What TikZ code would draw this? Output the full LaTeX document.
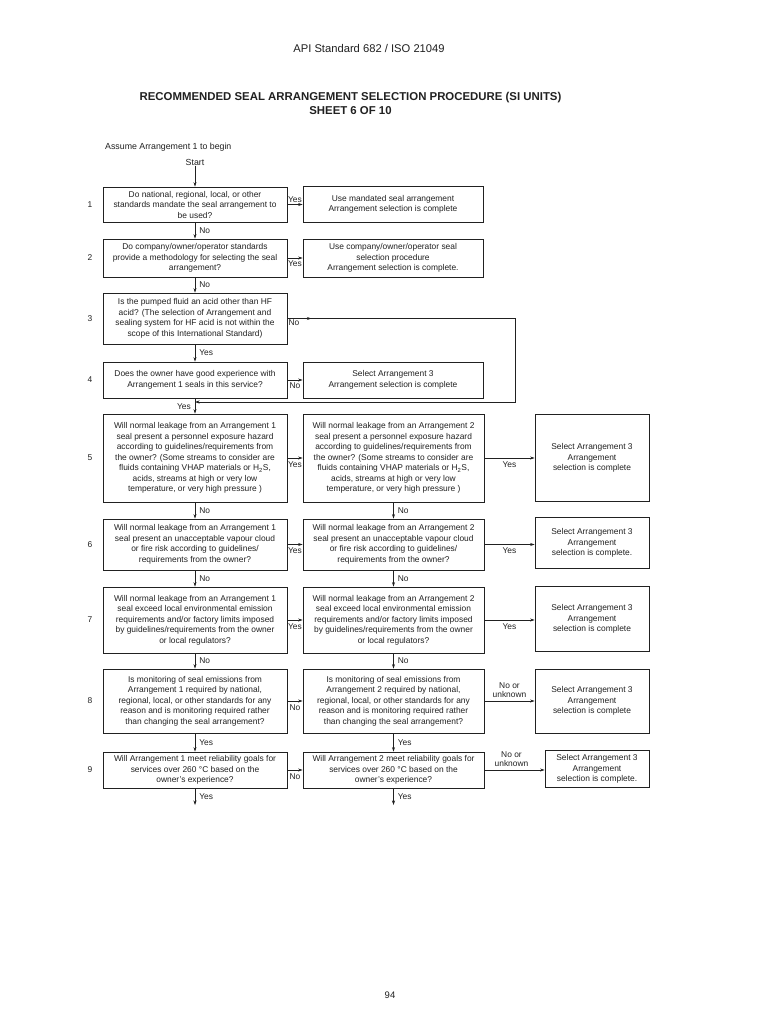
\documentclass[tikz,border=0pt]{standalone}
\usepackage{fontspec}
\setmainfont{Liberation Sans}
\usetikzlibrary{arrows.meta, positioning}
\definecolor{ink}{rgb}{0.13,0.13,0.13}
\tikzset{basic/.style={draw=ink,line width=0.8pt,align=center,inner sep=1pt,text=ink,font=\fontsize{8.4}{10.5}\selectfont}}
\tikzset{ask/.style={basic,minimum width=184pt}}
\tikzset{asktwo/.style={basic,minimum width=181pt}}
\tikzset{done/.style={basic,minimum width=114pt}}
\tikzset{conn/.style={draw=ink,line width=0.6pt,-{Stealth[length=4.5pt,width=3pt]}}}
\tikzset{lbl/.style={text=ink,inner sep=1pt,align=center,font=\fontsize{8.4}{9.5}\selectfont}}

\begin{document}
\begin{tikzpicture}[x=1pt,y=-1pt]
\useasboundingbox (0,0) rectangle (768,1024);
\fill[white] (0,0) rectangle (768,1024);

% Page heading
\node[lbl,font=\fontsize{11.2}{13}\selectfont] (head) at (369,48) {API Standard 682 / ISO 21049};
\node[lbl,font=\bfseries\fontsize{11.4}{14}\selectfont] (title) at (350.5,103) {RECOMMENDED SEAL ARRANGEMENT SELECTION PROCEDURE (SI UNITS)\\SHEET 6 OF 10};
\node[lbl,anchor=west,font=\fontsize{8.8}{10}\selectfont] (assume) at (104,147) {Assume Arrangement 1 to begin};
\node[lbl,font=\fontsize{8.8}{10}\selectfont] (start) at (195,162) {Start};

% Row numbers
\foreach \i/\y in {1/204.5,2/258,3/318.5,4/380,5/458,6/544.5,7/620,8/701,9/770}
  \node[lbl] (n\i) at (90,\y) {\i};

% First column questions
\node[ask,minimum height=35pt] (q1) at (195,204.5) {Do national, regional, local, or other\\standards mandate the seal arrangement to\\be used?};
\node[ask,minimum height=38pt] (q2) at (195,258) {Do company/owner/operator standards\\provide a methodology for selecting the seal\\arrangement?};
\node[ask,minimum height=51pt] (q3) at (195,318.5) {Is the pumped fluid an acid other than HF\\acid? (The selection of Arrangement and\\sealing system for HF acid is not within the\\scope of this International Standard)};
\node[ask,minimum height=36pt] (q4) at (195,380) {Does the owner have good experience with\\Arrangement 1 seals in this service?};
\node[ask,minimum height=88pt] (q5) at (195,458) {Will normal leakage from an Arrangement 1\\seal present a personnel exposure hazard\\according to guidelines/requirements from\\the owner? (Some streams to consider are\\fluids containing VHAP materials or H\textsubscript{2}S,\\acids, streams at high or very low\\temperature, or very high pressure )};
\node[ask,minimum height=51pt] (q6) at (195,544.5) {Will normal leakage from an Arrangement 1\\seal present an unacceptable vapour cloud\\or fire risk according to guidelines/\\requirements from the owner?};
\node[ask,minimum height=66pt] (q7) at (195,620) {Will normal leakage from an Arrangement 1\\seal exceed local environmental emission\\requirements and/or factory limits imposed\\by guidelines/requirements from the owner\\or local regulators?};
\node[ask,minimum height=64pt] (q8) at (195,701) {Is monitoring of seal emissions from\\Arrangement 1 required by national,\\regional, local, or other standards for any\\reason and is monitoring required rather\\than changing the seal arrangement?};
\node[ask,minimum height=36pt] (q9) at (195,770) {Will Arrangement 1 meet reliability goals for\\services over 260 °C based on the\\owner's experience?};

% Early outcomes
\node[asktwo,minimum width=180pt,minimum height=36pt] (r1) at (393,204.5) {Use mandated seal arrangement\\Arrangement selection is complete};
\node[asktwo,minimum width=180pt,minimum height=38pt] (r2) at (393,258) {Use company/owner/operator seal\\selection procedure\\Arrangement selection is complete.};
\node[asktwo,minimum width=180pt,minimum height=36pt] (r4) at (393,380) {Select Arrangement 3\\Arrangement selection is complete};

% Second column questions
\node[asktwo,minimum height=88pt] (m5) at (393.5,458) {Will normal leakage from an Arrangement 2\\seal present a personnel exposure hazard\\according to guidelines/requirements from\\the owner? (Some streams to consider are\\fluids containing VHAP materials or H\textsubscript{2}S,\\acids, streams at high or very low\\temperature, or very high pressure )};
\node[asktwo,minimum height=51pt] (m6) at (393.5,544.5) {Will normal leakage from an Arrangement 2\\seal present an unacceptable vapour cloud\\or fire risk according to guidelines/\\requirements from the owner?};
\node[asktwo,minimum height=66pt] (m7) at (393.5,620) {Will normal leakage from an Arrangement 2\\seal exceed local environmental emission\\requirements and/or factory limits imposed\\by guidelines/requirements from the owner\\or local regulators?};
\node[asktwo,minimum height=64pt] (m8) at (393.5,701) {Is monitoring of seal emissions from\\Arrangement 2 required by national,\\regional, local, or other standards for any\\reason and is monitoring required rather\\than changing the seal arrangement?};
\node[asktwo,minimum height=36pt] (m9) at (393.5,770) {Will Arrangement 2 meet reliability goals for\\services over 260 °C based on the\\owner's experience?};

% Third column outcomes
\node[done,minimum height=87pt] (s5) at (592,458) {Select Arrangement 3\\Arrangement\\selection is complete};
\node[done,minimum height=51pt] (s6) at (592,543) {Select Arrangement 3\\Arrangement\\selection is complete.};
\node[done,minimum height=65pt] (s7) at (592,619) {Select Arrangement 3\\Arrangement\\selection is complete};
\node[done,minimum height=64pt] (s8) at (592,701) {Select Arrangement 3\\Arrangement\\selection is complete};
\node[done,minimum width=104pt,minimum height=37pt] (s9) at (597,769) {Select Arrangement 3\\Arrangement\\selection is complete.};

% Free ends and bends
\coordinate (k1) at (515,318.5);
\coordinate (k2) at (515,402);
\coordinate (k3) at (195,402);
\coordinate (e1) at (195,805);
\coordinate (e2) at (393.5,805);

% Down the first column
\draw[conn] (start) -- (q1);
\draw[conn] (q1) -- (q2) node[midway,lbl,right=3pt] {No};
\draw[conn] (q2) -- (q3) node[midway,lbl,right=3pt] {No};
\draw[conn] (q3) -- (q4) node[midway,lbl,right=3pt] {Yes};
\draw[conn] (q4) -- (q5) node[pos=0.55,lbl,left=3pt] {Yes};
\draw[conn] (q5) -- (q6) node[midway,lbl,right=3pt] {No};
\draw[conn] (q6) -- (q7) node[midway,lbl,right=3pt] {No};
\draw[conn] (q7) -- (q8) node[midway,lbl,right=3pt] {No};
\draw[conn] (q8) -- (q9) node[midway,lbl,right=3pt] {Yes};
\draw[conn] (q9) -- (e1) node[midway,lbl,right=3pt] {Yes};

% Down the second column
\draw[conn] (m5) -- (m6) node[midway,lbl,right=3pt] {No};
\draw[conn] (m6) -- (m7) node[midway,lbl,right=3pt] {No};
\draw[conn] (m7) -- (m8) node[midway,lbl,right=3pt] {No};
\draw[conn] (m8) -- (m9) node[midway,lbl,right=3pt] {Yes};
\draw[conn] (m9) -- (e2) node[midway,lbl,right=3pt] {Yes};

% Across to the outcomes
\draw[conn] (q1) -- (r1) node[midway,lbl,above=1pt] {Yes};
\draw[conn] (q2) -- (r2) node[midway,lbl,below=1pt] {Yes};
\draw[conn] (q4) -- (r4) node[midway,lbl,below=1pt] {No};
\draw[conn] (q5) -- (m5) node[midway,lbl,below=2pt] {Yes};
\draw[conn] (q6) -- (m6) node[midway,lbl,below=2pt] {Yes};
\draw[conn] (q7) -- (m7) node[midway,lbl,below=2pt] {Yes};
\draw[conn] (q8) -- (m8) node[midway,lbl,below=2pt] {No};
\draw[conn] (q9) -- (m9) node[midway,lbl,below=2pt] {No};

\draw[conn] (m5.east) -- (m5.east -| s5.west) node[midway,lbl,below=2pt] {Yes};
\draw[conn] (m6.east) -- (m6.east -| s6.west) node[midway,lbl,below=2pt] {Yes};
\draw[conn] (m7.east) -- (m7.east -| s7.west) node[midway,lbl,below=2pt] {Yes};
\draw[conn] (m8.east) -- (m8.east -| s8.west) node[midway,lbl,above=2pt] {No or\\unknown};
\draw[conn] (m9.east) -- (m9.east -| s9.west) node[pos=0.45,lbl,above=2pt] {No or\\unknown};

% HF acid loop back to question 5
\draw[conn] (q3.east) -- (k1) -- (k2) -- (k3);
\draw[conn] (q3.east) -- ++(24,0);
\node[lbl,anchor=north west] at (q3.east) {No};

% Page number
\node[lbl,font=\fontsize{9.5}{11}\selectfont] (page) at (390,995) {94};
\end{tikzpicture}
\end{document}
